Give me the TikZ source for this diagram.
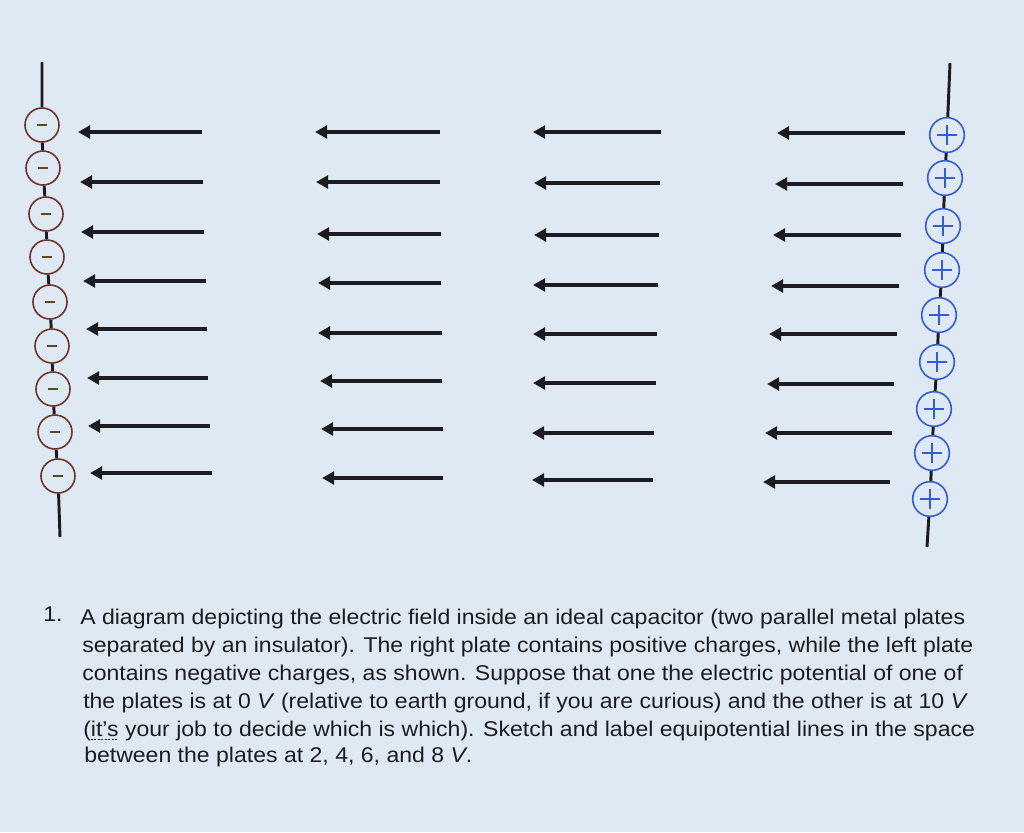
\documentclass[tikz,border=0pt]{standalone}
\usepackage{fontspec}
\setmainfont{Liberation Sans}[FakeStretch=1.08]
\usetikzlibrary{arrows.meta}

\definecolor{paper}{RGB}{222,233,243}
\definecolor{ink}{RGB}{28,28,32}
\definecolor{negring}{RGB}{112,52,46}
\definecolor{negsign}{RGB}{92,72,34}
\definecolor{posblue}{RGB}{52,92,212}

\newcommand{\spellmark}[1]{\setbox0\hbox{#1}\rlap{\raisebox{-3.2pt}{\hbox to \wd0{\leaders\hbox to 2.6pt{\rule{1.4pt}{1.1pt}\hss}\hfill}}}#1}

\begin{document}
\begin{tikzpicture}[x=0.75pt,y=0.75pt,yscale=-1,xscale=1,
    field/.style={color=ink, line width=2.3pt, -{Triangle[length=9pt,width=9.5pt]}},
    plate/.style={color=ink, line width=2.2pt},
    negcharge/.style={circle, draw=negring, fill=paper, line width=1.2pt, minimum size=25.5pt, inner sep=0pt,
        path picture={\draw[negsign, line width=1.8pt] ([xshift=-3.6pt]path picture bounding box.center) -- ([xshift=3.6pt]path picture bounding box.center);}},
    poscharge/.style={circle, draw=posblue, fill=paper, line width=1.2pt, minimum size=26pt, inner sep=0pt,
        path picture={\draw[posblue, line width=1.3pt] ([xshift=-7.5pt]path picture bounding box.center) -- ([xshift=7.5pt]path picture bounding box.center) ([yshift=-7.5pt]path picture bounding box.center) -- ([yshift=7.5pt]path picture bounding box.center);}},
    qtext/.style={anchor=base west, inner sep=0pt, text=ink, font=\fontsize{16}{19}\selectfont}]

        %Background
        \fill[paper] (0,0) rectangle (1024,832);
        \useasboundingbox (0,0) rectangle (1024,832);

        %Left plate (negative)
        \coordinate (ltop) at (42,62);
        \coordinate (lbot) at (60,537);
        \node[negcharge] (n1) at (42,125) {};
        \node[negcharge] (n2) at (43,168) {};
        \node[negcharge] (n3) at (46,214) {};
        \node[negcharge] (n4) at (47,257) {};
        \node[negcharge] (n5) at (50,302) {};
        \node[negcharge] (n6) at (52,346) {};
        \node[negcharge] (n7) at (53,389) {};
        \node[negcharge] (n8) at (55,432) {};
        \node[negcharge] (n9) at (58,476) {};
        \draw[plate] (ltop) -- (n1) -- (n2) -- (n3) -- (n4) -- (n5) -- (n6) -- (n7) -- (n8) -- (n9) -- (lbot);

        %Right plate (positive)
        \coordinate (rtop) at (950,63);
        \coordinate (rbot) at (927,547);
        \node[poscharge] (p1) at (947,135) {};
        \node[poscharge] (p2) at (945,178) {};
        \node[poscharge] (p3) at (943,226) {};
        \node[poscharge] (p4) at (942,270) {};
        \node[poscharge] (p5) at (939,315) {};
        \node[poscharge] (p6) at (937,362) {};
        \node[poscharge] (p7) at (934,409) {};
        \node[poscharge] (p8) at (932,453) {};
        \node[poscharge] (p9) at (930,499) {};
        \draw[plate] (rtop) -- (p1) -- (p2) -- (p3) -- (p4) -- (p5) -- (p6) -- (p7) -- (p8) -- (p9) -- (rbot);

        %Field arrows, first column
        \draw[field] (202,132) -- (78,132);
        \draw[field] (203,182) -- (80,182);
        \draw[field] (204,232) -- (81,232);
        \draw[field] (206,281) -- (83,281);
        \draw[field] (207,329) -- (86,329);
        \draw[field] (208,378) -- (87,378);
        \draw[field] (210,426) -- (88,426);
        \draw[field] (212,473) -- (90,473);
        %Field arrows, second column
        \draw[field] (440,132) -- (315,132);
        \draw[field] (440,182) -- (316,182);
        \draw[field] (441,234) -- (317,234);
        \draw[field] (441,283) -- (318,283);
        \draw[field] (442,333) -- (318,333);
        \draw[field] (442,381) -- (320,381);
        \draw[field] (443,429) -- (321,429);
        \draw[field] (443,478) -- (322,478);
        %Field arrows, third column
        \draw[field] (661,132) -- (533,132);
        \draw[field] (660,183) -- (534,183);
        \draw[field] (659,235) -- (534,235);
        \draw[field] (658,285) -- (533,285);
        \draw[field] (657,334) -- (533,334);
        \draw[field] (656,383) -- (533,383);
        \draw[field] (654,433) -- (532,433);
        \draw[field] (653,480) -- (532,480);
        %Field arrows, fourth column
        \draw[field] (905,133) -- (777,133);
        \draw[field] (903,184) -- (775,184);
        \draw[field] (901,235) -- (773,235);
        \draw[field] (899,286) -- (771,286);
        \draw[field] (897,334) -- (769,334);
        \draw[field] (894,384) -- (767,384);
        \draw[field] (892,433) -- (765,433);
        \draw[field] (890,482) -- (763,482);

        % Text Node
        \node[qtext] (num) at (43,621) {1.};
        % Text Node
        \node[qtext] (q1) at (80,624) {A diagram depicting the electric field inside an ideal capacitor (two parallel metal plates};
        % Text Node
        \node[qtext] (q2) at (82,652) {separated by an insulator). The right plate contains positive charges, while the left plate};
        % Text Node
        \node[qtext] (q3) at (82,680) {contains negative charges, as shown. Suppose that one the electric potential of one of};
        % Text Node
        \node[qtext] (q4) at (83,708) {the plates is at 0 \textit{V} (relative to earth ground, if you are curious) and the other is at 10 \textit{V}};
        % Text Node
        \node[qtext] (q5) at (83,736) {(\spellmark{it's} your job to decide which is which). Sketch and label equipotential lines in the space};
        % Text Node
        \node[qtext] (q6) at (84,762) {between the plates at 2, 4, 6, and 8 \textit{V}.};

\end{tikzpicture}
\end{document}
